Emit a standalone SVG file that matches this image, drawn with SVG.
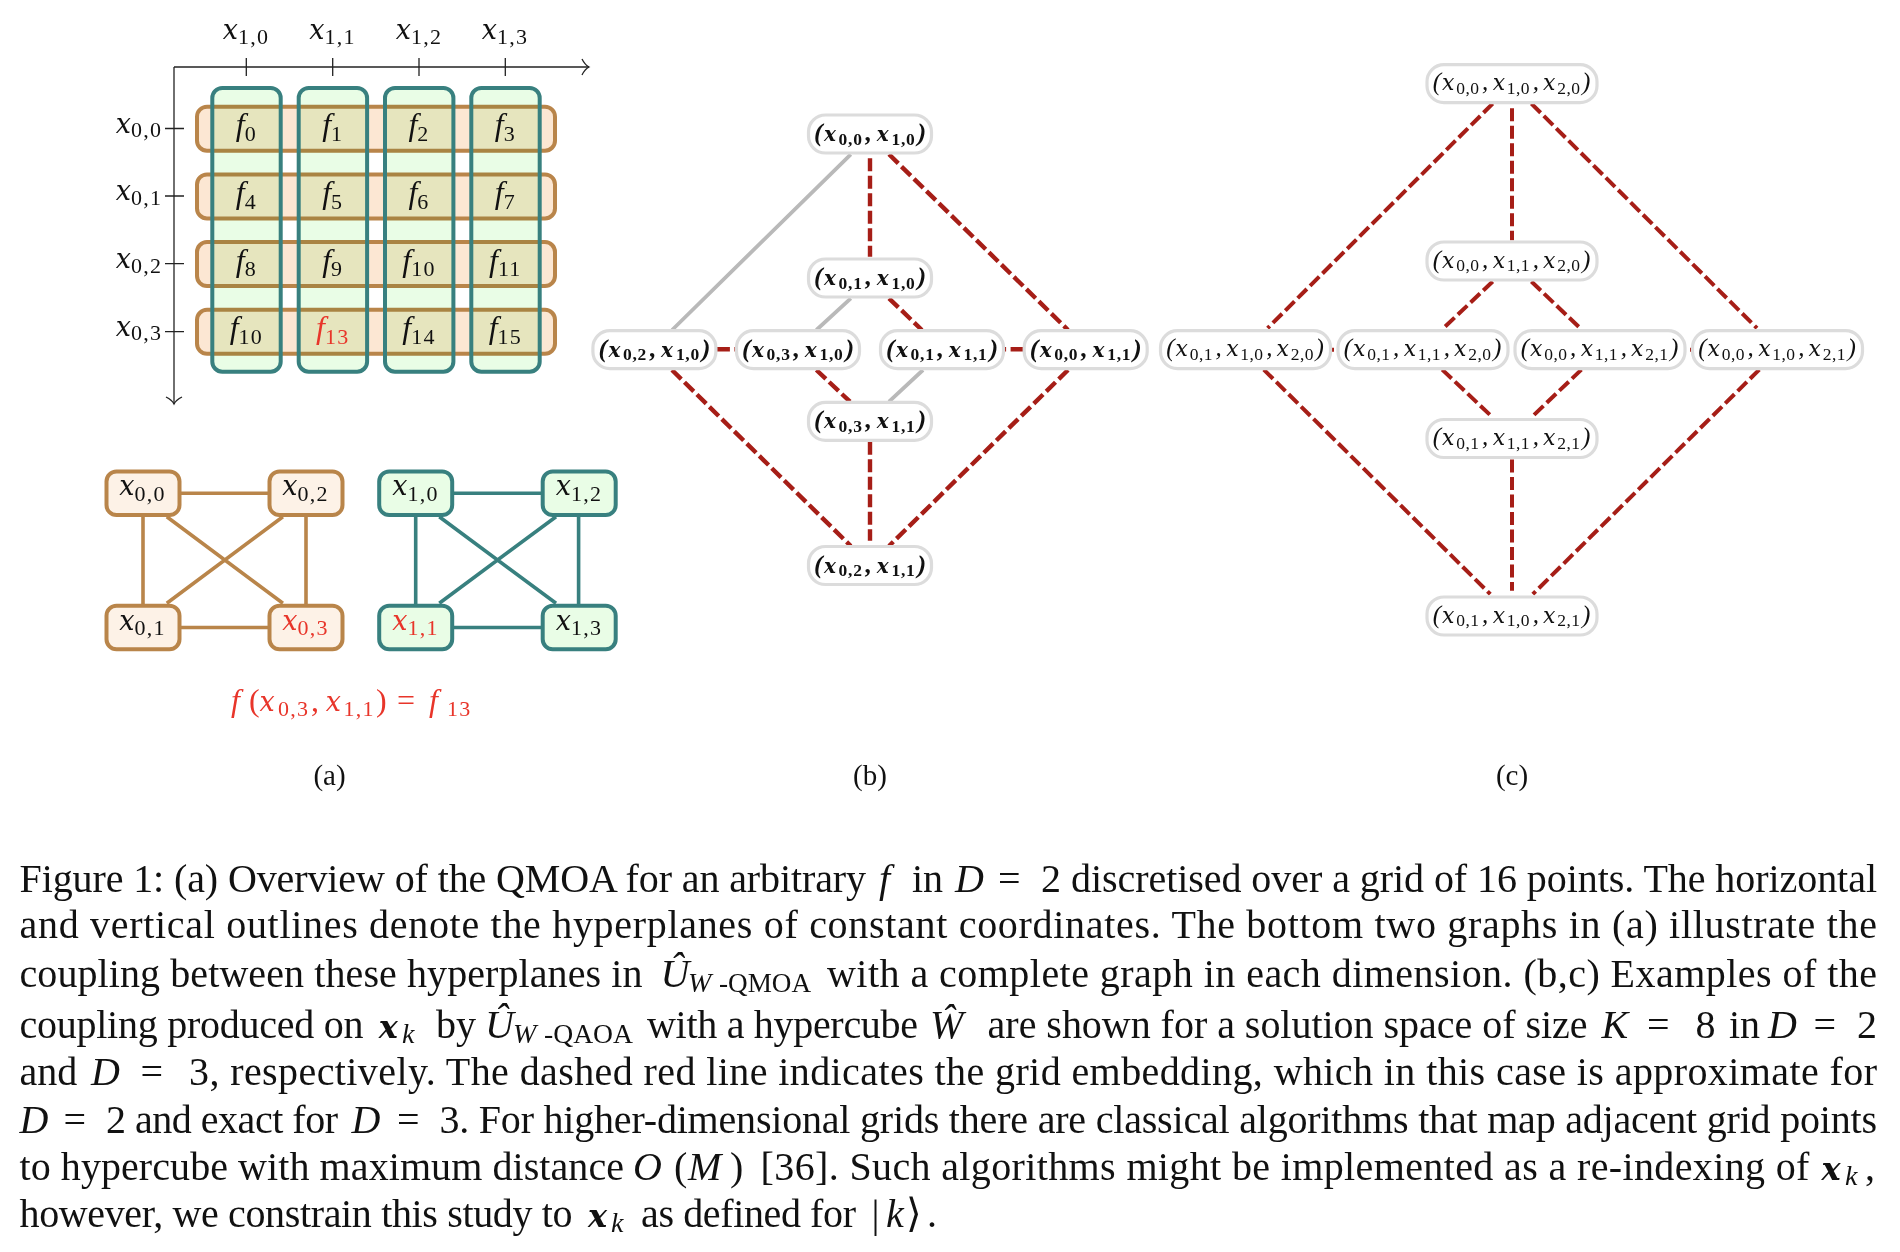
<svg xmlns="http://www.w3.org/2000/svg" width="1900" height="1252" viewBox="0 0 1900 1252">
<style>
text{font-family:"Liberation Serif","DejaVu Serif",serif;fill:#111}
.m{font-size:32px;text-anchor:middle;font-style:italic}
.mx{font-family:"DejaVu Serif",serif;font-size:27px}
.m tspan.s{font-family:"Liberation Serif",serif;font-size:22px;font-style:normal;letter-spacing:1.2px}
.red,.red tspan{fill:#e8352a}
.ax{fill:none;stroke:#222;stroke-width:1.3}
.row{fill:#fce7d3;stroke:#b9854a;stroke-width:4}
.colf{fill:#e9fde6;mix-blend-mode:multiply}
.cols{fill:none;stroke:#38807f;stroke-width:4}
.on{fill:#fdf2e7;stroke:#b9854a;stroke-width:4}
.gn{fill:#e9fde6;stroke:#38807f;stroke-width:4}
.oe{stroke:#b9854a;stroke-width:3.6;fill:none}
.ge{stroke:#38807f;stroke-width:3.6;fill:none}
.rd{stroke:#a61e17;stroke-width:4.4;stroke-dasharray:13 4.5;fill:none}
.rc{stroke-width:4}
.gy{stroke:#b9b9b9;stroke-width:3.8;fill:none}
.pill{fill:#fff;stroke:#dcdcdc;stroke-width:3.2}
.bt{font-size:26px;font-weight:bold;font-style:italic}
.bt .q{font-family:"DejaVu Serif",serif;font-size:20px}
.bs{font-size:17.5px;font-weight:bold;font-style:normal;letter-spacing:.7px}
.ct{font-size:25px;font-style:italic}
.ct .q{font-family:"DejaVu Serif",serif;font-size:22px}
.cs{font-size:17.5px;font-style:normal;letter-spacing:.4px}
.lab{font-size:29px;text-anchor:middle}
.cap{font-size:40px}
.i{font-size:40px;font-style:italic}
.b{font-family:"DejaVu Serif",serif;font-size:32px;font-style:italic;font-weight:bold}
.sb{font-size:28px}
.si{font-size:28px;font-style:italic}
.eq{font-size:32px;font-style:italic}
.eqx{font-family:"DejaVu Serif",serif;font-size:27px;font-style:italic}
.eqs{font-size:22px;letter-spacing:1.2px}
.eqr{font-size:32px}
</style>
<defs>
<marker id="arr" markerUnits="userSpaceOnUse" markerWidth="14" markerHeight="20" viewBox="-12 -10 14 20" refX="0" refY="0" orient="auto">
<path d="M-7,-8 Q-4,-2 0,0 Q-4,2 -7,8" fill="none" stroke="#222" stroke-width="1.3"/>
</marker>
</defs>
<rect width="1900" height="1252" fill="#fff"/>

<g id="axes">
<path class="ax" d="M174,67 H589" marker-end="url(#arr)"/>
<path class="ax" d="M174,67 V404" marker-end="url(#arr)"/>
<path class="ax" d="M246.3,58 V76 M332.7,58 V76 M419,58 V76 M505.3,58 V76 M165,128.5 H184 M165,196 H184 M165,263.7 H184 M165,331.7 H184"/>
<text class="m mx" x="246" y="39">x<tspan class="s" dy="4.5">1,0</tspan></text>
<text class="m mx" x="332.5" y="39">x<tspan class="s" dy="4.5">1,1</tspan></text>
<text class="m mx" x="419" y="39">x<tspan class="s" dy="4.5">1,2</tspan></text>
<text class="m mx" x="505" y="39">x<tspan class="s" dy="4.5">1,3</tspan></text>
<text class="m mx" x="139" y="132.5">x<tspan class="s" dy="4.5">0,0</tspan></text>
<text class="m mx" x="139" y="200">x<tspan class="s" dy="4.5">0,1</tspan></text>
<text class="m mx" x="139" y="268">x<tspan class="s" dy="4.5">0,2</tspan></text>
<text class="m mx" x="139" y="335.7">x<tspan class="s" dy="4.5">0,3</tspan></text>
</g>

<g id="rows">
<rect class="row" x="197" y="106.7" width="358" height="44" rx="10"/>
<rect class="row" x="197" y="174.4" width="358" height="44" rx="10"/>
<rect class="row" x="197" y="242.1" width="358" height="44" rx="10"/>
<rect class="row" x="197" y="309.8" width="358" height="44" rx="10"/>
</g>
<g id="columns">
<rect class="colf" x="212.3" y="88" width="68.4" height="283.7" rx="10"/>
<rect class="colf" x="298.7" y="88" width="68.4" height="283.7" rx="10"/>
<rect class="colf" x="385" y="88" width="68.4" height="283.7" rx="10"/>
<rect class="colf" x="471.3" y="88" width="68.4" height="283.7" rx="10"/>
<rect class="cols" x="212.3" y="88" width="68.4" height="283.7" rx="10"/>
<rect class="cols" x="298.7" y="88" width="68.4" height="283.7" rx="10"/>
<rect class="cols" x="385" y="88" width="68.4" height="283.7" rx="10"/>
<rect class="cols" x="471.3" y="88" width="68.4" height="283.7" rx="10"/>
</g>
<g id="cells">
<text class="m" x="246.3" y="135">f<tspan class="s" dy="5.5">0</tspan></text>
<text class="m" x="332.7" y="135">f<tspan class="s" dy="5.5">1</tspan></text>
<text class="m" x="419" y="135">f<tspan class="s" dy="5.5">2</tspan></text>
<text class="m" x="505.3" y="135">f<tspan class="s" dy="5.5">3</tspan></text>
<text class="m" x="246.3" y="203">f<tspan class="s" dy="5.5">4</tspan></text>
<text class="m" x="332.7" y="203">f<tspan class="s" dy="5.5">5</tspan></text>
<text class="m" x="419" y="203">f<tspan class="s" dy="5.5">6</tspan></text>
<text class="m" x="505.3" y="203">f<tspan class="s" dy="5.5">7</tspan></text>
<text class="m" x="246.3" y="270.5">f<tspan class="s" dy="5.5">8</tspan></text>
<text class="m" x="332.7" y="270.5">f<tspan class="s" dy="5.5">9</tspan></text>
<text class="m" x="419" y="270.5">f<tspan class="s" dy="5.5">10</tspan></text>
<text class="m" x="505.3" y="270.5">f<tspan class="s" dy="5.5">11</tspan></text>
<text class="m" x="246.3" y="338">f<tspan class="s" dy="5.5">10</tspan></text>
<text class="m red" x="332.7" y="338">f<tspan class="s" dy="5.5">13</tspan></text>
<text class="m" x="419" y="338">f<tspan class="s" dy="5.5">14</tspan></text>
<text class="m" x="505.3" y="338">f<tspan class="s" dy="5.5">15</tspan></text>
</g>

<g id="connectors">
<path class="oe" d="M179,493.3 H270 M179,627.5 H270 M143,515 V606 M306,515 V606 M166.8,516.7 L282.9,603.3 M282.9,516.7 L166.8,603.3"/>
<path class="ge" d="M452,493.3 H543 M452,627.5 H543 M415.7,515 V606 M578.6,515 V606 M439.3,516.7 L556,603.3 M556,516.7 L439.3,603.3"/>

<path class="gy" d="M850.8,154.3 L672.1,330 M850.8,298.3 L816.4,330 M923,370 L889,401.7"/>
<path class="rd" d="M870,158.3 V256.7 M889,154.3 L1068,330 M889,298.3 L921.9,330 M716.9,349.3 H735.4 M1023.6,349.3 H1004.4 M672,370 L850.8,546 M816.4,370 L850,401.7 M870,441.7 V540.7 M1068,370 L889,546"/>

<path class="rd rc" d="M1492.7,103.6 L1267.6,328.2 M1512,108.2 V240.2 M1531.4,103.6 L1757,328.2 M1492.7,281.5 L1442.2,329.4 M1531.4,281.5 L1581.4,329.4 M1263.8,369.6 L1490.3,594.2 M1442.2,369.6 L1492.7,417.4 M1581.4,369.6 L1531.4,417.4 M1512,459.5 V590.8 M1759.3,369.6 L1532.8,594.2 M1331,349.7 H1334 M1690,349.7 H1692"/>
</g>

<g id="a-x00"><rect class="on" x="106.5" y="471.5" width="73" height="43.6" rx="10"/><text class="m mx" x="142.5" y="495">x<tspan class="s" dy="5.5">0,0</tspan></text></g>
<g id="a-x02"><rect class="on" x="269.5" y="471.5" width="73" height="43.6" rx="10"/><text class="m mx" x="305.5" y="495">x<tspan class="s" dy="5.5">0,2</tspan></text></g>
<g id="a-x01"><rect class="on" x="106.5" y="605.7" width="73" height="43.6" rx="10"/><text class="m mx" x="142.5" y="629.5">x<tspan class="s" dy="5.5">0,1</tspan></text></g>
<g id="a-x03"><rect class="on" x="269.5" y="605.7" width="73" height="43.6" rx="10"/><text class="m mx red" x="305.5" y="629.5">x<tspan class="s" dy="5.5">0,3</tspan></text></g>
<g id="a-x10"><rect class="gn" x="379.2" y="471.5" width="73" height="43.6" rx="10"/><text class="m mx" x="415.5" y="495">x<tspan class="s" dy="5.5">1,0</tspan></text></g>
<g id="a-x12"><rect class="gn" x="542.7" y="471.5" width="73" height="43.6" rx="10"/><text class="m mx" x="579" y="495">x<tspan class="s" dy="5.5">1,2</tspan></text></g>
<g id="a-x11"><rect class="gn" x="379.2" y="605.7" width="73" height="43.6" rx="10"/><text class="m mx red" x="415.5" y="629.5">x<tspan class="s" dy="5.5">1,1</tspan></text></g>
<g id="a-x13"><rect class="gn" x="542.7" y="605.7" width="73" height="43.6" rx="10"/><text class="m mx" x="579" y="629.5">x<tspan class="s" dy="5.5">1,3</tspan></text></g>

<text id="equation" class="red" y="711"><tspan class="eq" x="231">f</tspan><tspan class="eqr" x="249">(</tspan><tspan class="eqx" x="259.6">x</tspan><tspan class="eqs" x="278" dy="5">0,3</tspan><tspan class="eqr" x="311" dy="-5">,</tspan><tspan class="eqx" x="325.7">x</tspan><tspan class="eqs" x="343.6" dy="5">1,1</tspan><tspan class="eqr" x="376" dy="-5">)</tspan><tspan class="eqr" x="397">=</tspan><tspan class="eq" x="429">f</tspan><tspan class="eqs" x="447" dy="5">13</tspan></text>

<text class="lab" x="329.5" y="785">(a)</text>
<text class="lab" x="870" y="785">(b)</text>
<text class="lab" x="1512" y="785">(c)</text>

<g id="b-n0" transform="translate(870,134)"><rect class="pill" x="-61.5" y="-19" width="123" height="38" rx="17"/><text class="bt" y="7"><tspan x="-56">(</tspan><tspan class="q" x="-46">x</tspan><tspan class="bs" x="-31.4" dy="3.5">0,0</tspan><tspan x="-4.4" dy="-3.5">,</tspan><tspan class="q" x="6.7">x</tspan><tspan class="bs" x="21.5" dy="3.5">1,0</tspan><tspan x="47.4" dy="-3.5">)</tspan></text></g>
<g id="b-n1" transform="translate(870,278)"><rect class="pill" x="-61.5" y="-19" width="123" height="38" rx="17"/><text class="bt" y="7"><tspan x="-56">(</tspan><tspan class="q" x="-46">x</tspan><tspan class="bs" x="-31.4" dy="3.5">0,1</tspan><tspan x="-4.4" dy="-3.5">,</tspan><tspan class="q" x="6.7">x</tspan><tspan class="bs" x="21.5" dy="3.5">1,0</tspan><tspan x="47.4" dy="-3.5">)</tspan></text></g>
<g id="b-n2" transform="translate(654.4,349.7)"><rect class="pill" x="-61.5" y="-19" width="123" height="38" rx="17"/><text class="bt" y="7"><tspan x="-56">(</tspan><tspan class="q" x="-46">x</tspan><tspan class="bs" x="-31.4" dy="3.5">0,2</tspan><tspan x="-4.4" dy="-3.5">,</tspan><tspan class="q" x="6.7">x</tspan><tspan class="bs" x="21.5" dy="3.5">1,0</tspan><tspan x="47.4" dy="-3.5">)</tspan></text></g>
<g id="b-n3" transform="translate(798,349.7)"><rect class="pill" x="-61.5" y="-19" width="123" height="38" rx="17"/><text class="bt" y="7"><tspan x="-56">(</tspan><tspan class="q" x="-46">x</tspan><tspan class="bs" x="-31.4" dy="3.5">0,3</tspan><tspan x="-4.4" dy="-3.5">,</tspan><tspan class="q" x="6.7">x</tspan><tspan class="bs" x="21.5" dy="3.5">1,0</tspan><tspan x="47.4" dy="-3.5">)</tspan></text></g>
<g id="b-n4" transform="translate(942,349.7)"><rect class="pill" x="-61.5" y="-19" width="123" height="38" rx="17"/><text class="bt" y="7"><tspan x="-56">(</tspan><tspan class="q" x="-46">x</tspan><tspan class="bs" x="-31.4" dy="3.5">0,1</tspan><tspan x="-4.4" dy="-3.5">,</tspan><tspan class="q" x="6.7">x</tspan><tspan class="bs" x="21.5" dy="3.5">1,1</tspan><tspan x="47.4" dy="-3.5">)</tspan></text></g>
<g id="b-n5" transform="translate(1085.7,349.7)"><rect class="pill" x="-61.5" y="-19" width="123" height="38" rx="17"/><text class="bt" y="7"><tspan x="-56">(</tspan><tspan class="q" x="-46">x</tspan><tspan class="bs" x="-31.4" dy="3.5">0,0</tspan><tspan x="-4.4" dy="-3.5">,</tspan><tspan class="q" x="6.7">x</tspan><tspan class="bs" x="21.5" dy="3.5">1,1</tspan><tspan x="47.4" dy="-3.5">)</tspan></text></g>
<g id="b-n6" transform="translate(870,421.3)"><rect class="pill" x="-61.5" y="-19" width="123" height="38" rx="17"/><text class="bt" y="7"><tspan x="-56">(</tspan><tspan class="q" x="-46">x</tspan><tspan class="bs" x="-31.4" dy="3.5">0,3</tspan><tspan x="-4.4" dy="-3.5">,</tspan><tspan class="q" x="6.7">x</tspan><tspan class="bs" x="21.5" dy="3.5">1,1</tspan><tspan x="47.4" dy="-3.5">)</tspan></text></g>
<g id="b-n7" transform="translate(870,565.5)"><rect class="pill" x="-61.5" y="-19" width="123" height="38" rx="17"/><text class="bt" y="7"><tspan x="-56">(</tspan><tspan class="q" x="-46">x</tspan><tspan class="bs" x="-31.4" dy="3.5">0,2</tspan><tspan x="-4.4" dy="-3.5">,</tspan><tspan class="q" x="6.7">x</tspan><tspan class="bs" x="21.5" dy="3.5">1,1</tspan><tspan x="47.4" dy="-3.5">)</tspan></text></g>

<g id="c-n0" transform="translate(1512,83.7)"><rect class="pill" x="-85" y="-19" width="170" height="38" rx="17"/><text class="ct" y="6.5"><tspan x="-79.3">(</tspan><tspan class="q" x="-70">x</tspan><tspan class="cs" x="-55.7" dy="3.5">0,0</tspan><tspan x="-30" dy="-3.5">,</tspan><tspan class="q" x="-19.3">x</tspan><tspan class="cs" x="-5.2" dy="3.5">1,0</tspan><tspan x="20.8" dy="-3.5">,</tspan><tspan class="q" x="31">x</tspan><tspan class="cs" x="45.3" dy="3.5">2,0</tspan><tspan x="70" dy="-3.5">)</tspan></text></g>
<g id="c-n1" transform="translate(1512,261)"><rect class="pill" x="-85" y="-19" width="170" height="38" rx="17"/><text class="ct" y="6.5"><tspan x="-79.3">(</tspan><tspan class="q" x="-70">x</tspan><tspan class="cs" x="-55.7" dy="3.5">0,0</tspan><tspan x="-30" dy="-3.5">,</tspan><tspan class="q" x="-19.3">x</tspan><tspan class="cs" x="-5.2" dy="3.5">1,1</tspan><tspan x="20.8" dy="-3.5">,</tspan><tspan class="q" x="31">x</tspan><tspan class="cs" x="45.3" dy="3.5">2,0</tspan><tspan x="70" dy="-3.5">)</tspan></text></g>
<g id="c-n2" transform="translate(1245.5,349.6)"><rect class="pill" x="-85" y="-19" width="170" height="38" rx="17"/><text class="ct" y="6.5"><tspan x="-79.3">(</tspan><tspan class="q" x="-70">x</tspan><tspan class="cs" x="-55.7" dy="3.5">0,1</tspan><tspan x="-30" dy="-3.5">,</tspan><tspan class="q" x="-19.3">x</tspan><tspan class="cs" x="-5.2" dy="3.5">1,0</tspan><tspan x="20.8" dy="-3.5">,</tspan><tspan class="q" x="31">x</tspan><tspan class="cs" x="45.3" dy="3.5">2,0</tspan><tspan x="70" dy="-3.5">)</tspan></text></g>
<g id="c-n3" transform="translate(1423,349.6)"><rect class="pill" x="-85" y="-19" width="170" height="38" rx="17"/><text class="ct" y="6.5"><tspan x="-79.3">(</tspan><tspan class="q" x="-70">x</tspan><tspan class="cs" x="-55.7" dy="3.5">0,1</tspan><tspan x="-30" dy="-3.5">,</tspan><tspan class="q" x="-19.3">x</tspan><tspan class="cs" x="-5.2" dy="3.5">1,1</tspan><tspan x="20.8" dy="-3.5">,</tspan><tspan class="q" x="31">x</tspan><tspan class="cs" x="45.3" dy="3.5">2,0</tspan><tspan x="70" dy="-3.5">)</tspan></text></g>
<g id="c-n4" transform="translate(1600,349.6)"><rect class="pill" x="-85" y="-19" width="170" height="38" rx="17"/><text class="ct" y="6.5"><tspan x="-79.3">(</tspan><tspan class="q" x="-70">x</tspan><tspan class="cs" x="-55.7" dy="3.5">0,0</tspan><tspan x="-30" dy="-3.5">,</tspan><tspan class="q" x="-19.3">x</tspan><tspan class="cs" x="-5.2" dy="3.5">1,1</tspan><tspan x="20.8" dy="-3.5">,</tspan><tspan class="q" x="31">x</tspan><tspan class="cs" x="45.3" dy="3.5">2,1</tspan><tspan x="70" dy="-3.5">)</tspan></text></g>
<g id="c-n5" transform="translate(1777.5,349.6)"><rect class="pill" x="-85" y="-19" width="170" height="38" rx="17"/><text class="ct" y="6.5"><tspan x="-79.3">(</tspan><tspan class="q" x="-70">x</tspan><tspan class="cs" x="-55.7" dy="3.5">0,0</tspan><tspan x="-30" dy="-3.5">,</tspan><tspan class="q" x="-19.3">x</tspan><tspan class="cs" x="-5.2" dy="3.5">1,0</tspan><tspan x="20.8" dy="-3.5">,</tspan><tspan class="q" x="31">x</tspan><tspan class="cs" x="45.3" dy="3.5">2,1</tspan><tspan x="70" dy="-3.5">)</tspan></text></g>
<g id="c-n6" transform="translate(1512,438.5)"><rect class="pill" x="-85" y="-19" width="170" height="38" rx="17"/><text class="ct" y="6.5"><tspan x="-79.3">(</tspan><tspan class="q" x="-70">x</tspan><tspan class="cs" x="-55.7" dy="3.5">0,1</tspan><tspan x="-30" dy="-3.5">,</tspan><tspan class="q" x="-19.3">x</tspan><tspan class="cs" x="-5.2" dy="3.5">1,1</tspan><tspan x="20.8" dy="-3.5">,</tspan><tspan class="q" x="31">x</tspan><tspan class="cs" x="45.3" dy="3.5">2,1</tspan><tspan x="70" dy="-3.5">)</tspan></text></g>
<g id="c-n7" transform="translate(1512,616)"><rect class="pill" x="-85" y="-19" width="170" height="38" rx="17"/><text class="ct" y="6.5"><tspan x="-79.3">(</tspan><tspan class="q" x="-70">x</tspan><tspan class="cs" x="-55.7" dy="3.5">0,1</tspan><tspan x="-30" dy="-3.5">,</tspan><tspan class="q" x="-19.3">x</tspan><tspan class="cs" x="-5.2" dy="3.5">1,0</tspan><tspan x="20.8" dy="-3.5">,</tspan><tspan class="q" x="31">x</tspan><tspan class="cs" x="45.3" dy="3.5">2,1</tspan><tspan x="70" dy="-3.5">)</tspan></text></g>

<g id="caption">
<text class="cap" x="19.5" y="891.7" textLength="846.5" lengthAdjust="spacing">Figure 1: (a) Overview of the QMOA for an arbitrary</text>
<text class="i" x="879" y="891.7">f</text>
<text class="cap" x="912" y="891.7">in</text>
<text class="i" x="955" y="891.7">D</text>
<text class="cap" x="998" y="891.7">=</text>
<text class="cap" x="1041" y="891.7">2</text>
<text class="cap" x="1071" y="891.7" textLength="806" lengthAdjust="spacing">discretised over a grid of 16 points. The horizontal</text>

<text class="cap" x="19.5" y="938" textLength="1857.5" lengthAdjust="spacing">and vertical outlines denote the hyperplanes of constant coordinates.  The bottom two graphs in (a) illustrate the</text>

<text class="cap" x="19.5" y="986.7" textLength="623" lengthAdjust="spacing">coupling between these hyperplanes in</text>
<text class="i" x="660.6" y="986.7">Û</text>
<text class="si" x="688" y="991.7">W</text>
<text class="sb" x="719" y="991.7" textLength="92" lengthAdjust="spacingAndGlyphs">-QMOA</text>
<text class="cap" x="827" y="986.7" textLength="1050" lengthAdjust="spacing">with a complete graph in each dimension.  (b,c) Examples of the</text>

<text class="cap" x="19.5" y="1038" textLength="344" lengthAdjust="spacing">coupling produced on</text>
<text class="b" x="378.8" y="1038">x</text>
<text class="si" x="402" y="1043">k</text>
<text class="cap" x="436" y="1038">by</text>
<text class="i" x="485" y="1038">Û</text>
<text class="si" x="513" y="1043">W</text>
<text class="sb" x="544" y="1043" textLength="89" lengthAdjust="spacingAndGlyphs">-QAOA</text>
<text class="cap" x="647" y="1038" textLength="271" lengthAdjust="spacing">with a hypercube</text>
<text class="i" x="930" y="1038">Ŵ</text>
<text class="cap" x="987.6" y="1038" textLength="600" lengthAdjust="spacing">are shown for a solution space of size</text>
<text class="i" x="1601.5" y="1038">K</text>
<text class="cap" x="1647" y="1038">=</text>
<text class="cap" x="1695.5" y="1038">8</text>
<text class="cap" x="1729" y="1038">in</text>
<text class="i" x="1768" y="1038">D</text>
<text class="cap" x="1813.6" y="1038">=</text>
<text class="cap" x="1857" y="1038">2</text>

<text class="cap" x="19.5" y="1085">and</text>
<text class="i" x="91" y="1085">D</text>
<text class="cap" x="140.6" y="1085">=</text>
<text class="cap" x="189" y="1085" textLength="1688" lengthAdjust="spacing">3, respectively.  The dashed red line indicates the grid embedding, which in this case is approximate for</text>

<text class="i" x="19.4" y="1132.7">D</text>
<text class="cap" x="63.6" y="1132.7">=</text>
<text class="cap" x="106" y="1132.7" textLength="232" lengthAdjust="spacing">2 and exact for</text>
<text class="i" x="351.5" y="1132.7">D</text>
<text class="cap" x="397" y="1132.7">=</text>
<text class="cap" x="439.4" y="1132.7" textLength="1437.6" lengthAdjust="spacing">3. For higher-dimensional grids there are classical algorithms that map adjacent grid points</text>

<text class="cap" x="19.5" y="1180" textLength="604.5" lengthAdjust="spacing">to hypercube with maximum distance</text>
<text class="i" x="633" y="1180">O</text>
<text class="cap" x="674" y="1180">(</text>
<text class="i" x="688" y="1180">M</text>
<text class="cap" x="730" y="1180">)</text>
<text class="cap" x="760.6" y="1180" textLength="1048.8" lengthAdjust="spacing">[36].  Such algorithms might be implemented as a re-indexing of</text>
<text class="b" x="1821.5" y="1180">x</text>
<text class="si" x="1845" y="1185">k</text>
<text class="cap" x="1865" y="1180">,</text>

<text class="cap" x="19.5" y="1227" textLength="553" lengthAdjust="spacing">however, we constrain this study to</text>
<text class="b" x="588" y="1227">x</text>
<text class="si" x="611" y="1232">k</text>
<text class="cap" x="641" y="1227" textLength="215" lengthAdjust="spacing">as defined for</text>
<text class="cap" x="871.5" y="1227">|</text>
<text class="i" x="886" y="1227">k</text>
<text class="cap" style="font-family:'DejaVu Sans',sans-serif" x="906" y="1227">⟩</text>
<text class="cap" x="927" y="1227">.</text>
</g>
</svg>
